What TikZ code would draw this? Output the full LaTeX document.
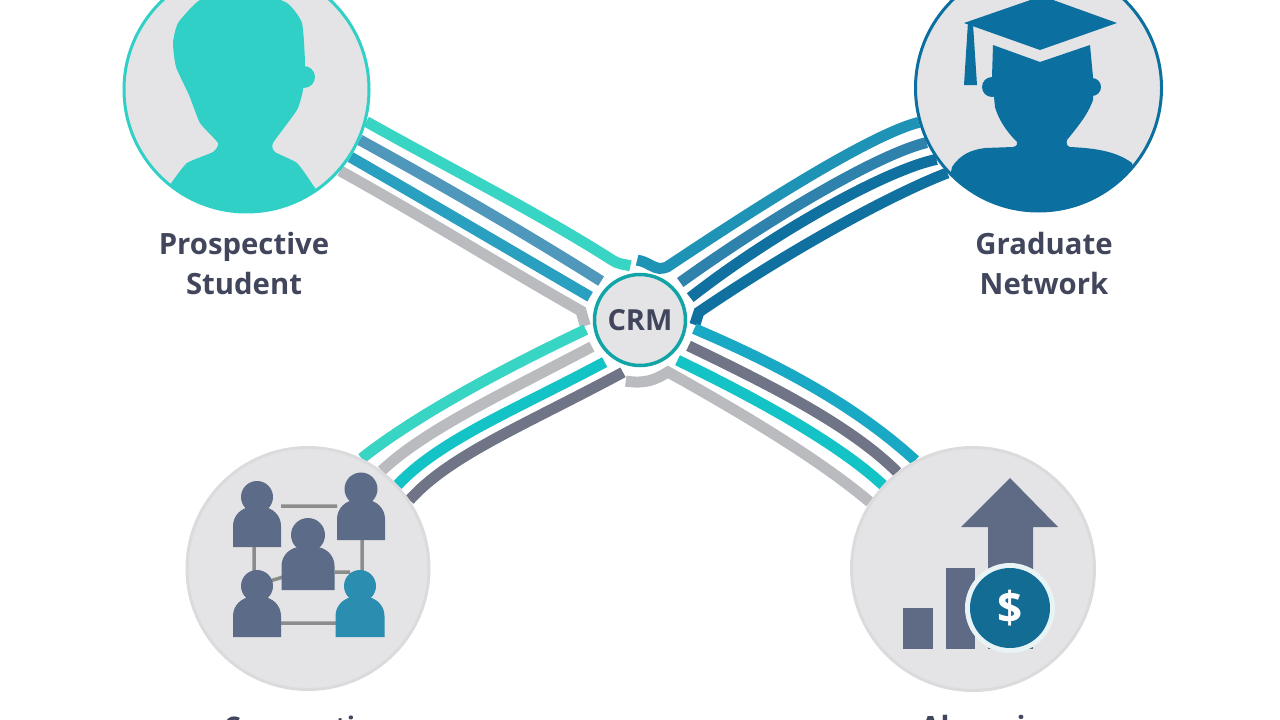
\documentclass[tikz,border=0pt]{standalone}
\usepackage{fontspec}
\setmainfont{Open Sans}
\pgfdeclarelayer{bg}
\pgfsetlayers{bg,main}
\definecolor{disc}{HTML}{E4E4E6}
\definecolor{discedge}{HTML}{DBDBDD}
\definecolor{tealA}{HTML}{30D0C6}
\definecolor{navyA}{HTML}{0B6F9F}
\definecolor{slateA}{HTML}{5B6B88}
\definecolor{barc}{HTML}{5F6A84}
\definecolor{personb}{HTML}{2B8DB0}
\definecolor{ringc}{HTML}{12A5A8}
\definecolor{coinc}{HTML}{136C93}
\definecolor{coinring}{HTML}{E8F3F6}
\definecolor{labelc}{HTML}{41465C}
\definecolor{linkgrey}{HTML}{BABBBF}
\definecolor{linkdark}{HTML}{6F7587}
\definecolor{linkteal}{HTML}{13C3C6}
\definecolor{linkmint}{HTML}{38D4C4}
\definecolor{linkblueA}{HTML}{4F97BB}
\definecolor{linkblueB}{HTML}{2AA0C0}
\definecolor{linkblueC}{HTML}{1F93B5}
\definecolor{linkblueD}{HTML}{2F82AC}
\definecolor{linkblueE}{HTML}{10709F}
\definecolor{linkblueF}{HTML}{1AA9C4}
\tikzset{
  hub/.style={circle,inner sep=0pt,fill=disc},
  strand/.style={line width=11pt},
  lbl/.style={font=\fontsize{29.3}{40}\selectfont\bfseries,text=labelc,align=center,inner sep=0pt},
  barbox/.style={fill=barc},
}
\newcommand{\gperson}[7]{%
  \fill[#7] (#1,#2) circle (#3);
  \fill[#7,rounded corners=19pt] (#1-#4,#6) -- (#1-#4,#5) -- (#1+#4,#5) -- (#1+#4,#6);
}
\begin{document}
\begin{tikzpicture}[x=1pt,y=-1pt]
\useasboundingbox (0,0) rectangle (1280,720);
% hubs
\node[hub,draw=tealA,line width=3pt,minimum size=245pt] (ps) at (246.5,89.5) {};
\node[hub,draw=navyA,line width=3pt,minimum size=246pt] (gn) at (1038.5,88) {};
\node[hub,draw=discedge,line width=3pt,minimum size=242pt] (gp) at (308,568.5) {};
\node[hub,draw=discedge,line width=3pt,minimum size=243pt] (al) at (973,569) {};
\node[hub,draw=ringc,line width=3.5pt,minimum size=91pt,outer sep=9.5pt,font=\fontsize{29}{30}\selectfont\bfseries,text=labelc] (crm) at (640,320) {CRM};
% strands
\begin{pgfonlayer}{bg}
\draw[strand,linkmint] (ps.-15.5) .. controls (449,168) and (540,214) .. (612,260) .. controls (618,264) and (622,264) .. (crm.100);
\draw[strand,linkblueA] (ps.-24.8) .. controls (440,184) and (520,230) .. (crm.135);
\draw[strand,linkblueB] (ps.-33.5) .. controls (425,200) and (510,250) .. (crm.155);
\draw[strand,linkgrey] (ps.-41.2) .. controls (420,215) and (500,265) .. (581,311) -- (crm.186);
\draw[strand,linkmint] (gp.64.2) .. controls (410,420) and (490,375) .. (crm.190);
\draw[strand,linkgrey] (gp.53.9) .. controls (425,430) and (500,395) .. (crm.209.4);
\draw[strand,linkteal] (gp.43.9) .. controls (440,440) and (515,410) .. (crm.230.2);
\draw[strand,linkdark] (gp.34.1) .. controls (450,455) and (525,425) .. (crm.252.2);
\draw[strand,linkblueC] (gn.196.3) .. controls (870,135) and (760,205) .. (667,267) .. controls (655,272) and (650,262) .. ([yshift=5pt]crm.93);
\draw[strand,linkblueD] (gn.206) .. controls (875,155) and (760,225) .. (crm.43.5);
\draw[strand,linkblueE] (gn.215.6) .. controls (885,170) and (770,235) .. (crm.24.7);
\draw[strand,linkblueE] (gn.223.2) .. controls (890,195) and (790,250) .. (699,312) -- (crm.-5);
\draw[strand,linkblueF] (crm.-9) -- (702,332) .. controls (790,370) and (860,410) .. (al.118.8);
\draw[strand,linkdark] (crm.-28.4) .. controls (770,385) and (850,425) .. (al.128.8);
\draw[strand,linkteal] (crm.-47.9) .. controls (760,400) and (840,445) .. (al.137.3);
\draw[strand,linkgrey] ([yshift=-8pt]crm.-105) .. controls (645,384) and (655,380) .. (668,372) .. controls (745,415) and (820,460) .. (al.147.5);
\end{pgfonlayer}
% prospective student silhouette
\begin{scope}
\clip (246.5,89.5) circle (122);
\fill[tealA] (304,77) circle (11);
\fill[tealA] plot[smooth cycle,tension=.3] coordinates {(155,208) (172,182) (187,163) (213,152) (218,143) (200,123) (189,95) (176,67) (173,43) (178,23) (200,0) (245,-12) (287,3) (302,23) (305,63) (303,90) (297,110) (273,143) (275,152) (297,163) (313,185) (330,212) (335,240) (150,240)};
\end{scope}
% graduate silhouette
\begin{scope}
\clip (1038.5,88) circle (122.5);
\fill[navyA] (964,23) -- (1042,-4) -- (1117,23) -- (1040,50) -- cycle;
\fill[navyA] (968,22) -- (973,24) -- (977,85) -- (964,85) -- cycle;
\fill[navyA] (992,87) circle (10) (1092,87) circle (9);
\fill[navyA] (993,45) -- (1040,62) -- (1090,45) -- (1093,77) -- (1093,100) .. controls (1088,115) and (1075,130) .. (1067,140) .. controls (1066,144) and (1067,146) .. (1070,147) .. controls (1090,148) and (1115,150) .. (1132,163) -- (1150,230) -- (940,230) -- (952,167) .. controls (960,155) and (970,150) .. (985,148) -- (1013,147) .. controls (1017,146) and (1018,144) .. (1017,142) .. controls (1005,130) and (998,118) .. (995,107) -- (992,77) -- cycle;
\end{scope}
% group icon
\draw[line width=3.5pt,black!45] (281,506) -- (337,506) (254,547) -- (254,572) (362,540) -- (362,572) (281,623) -- (336,623) (270,581) -- (283,577) (335,572) -- (350,572);
\gperson{257}{497}{16}{24}{507}{547}{slateA}
\gperson{361}{489}{16.5}{24}{500}{540}{slateA}
\gperson{308}{535}{17}{26.5}{547}{590}{slateA}
\gperson{257}{586}{16}{24}{597}{637}{slateA}
\gperson{360}{586}{16}{24.5}{597}{637}{personb}
% growth icon
\fill[barbox] (903,608) rectangle (933,649);
\fill[barbox] (946,568) rectangle (975,649);
\fill[barbox] (988,612) rectangle (1033,649);
\fill[barbox] (1010,478) -- (1058,527) -- (1033,527) -- (1033,600) -- (988,600) -- (988,527) -- (961,527) -- cycle;
\fill[coinring] (1010,608) circle (45);
\node[circle,fill=coinc,minimum size=80pt,inner sep=0pt,text=white,font=\fontsize{44}{46}\selectfont\bfseries] (coin) at (1010,608) {\$};
% labels
\node[lbl,anchor=base] (l1) at (244,294) {Prospective\\Student};
\node[lbl,anchor=base] (l2) at (1044,294) {Graduate\\Network};
\node[lbl,anchor=base,font=\fontsize{27}{40}\selectfont\bfseries] (l3) at (305,736) {Cooperative};
\node[lbl,anchor=base] (l4) at (973,737) {Alumni};
\end{tikzpicture}
\end{document}
